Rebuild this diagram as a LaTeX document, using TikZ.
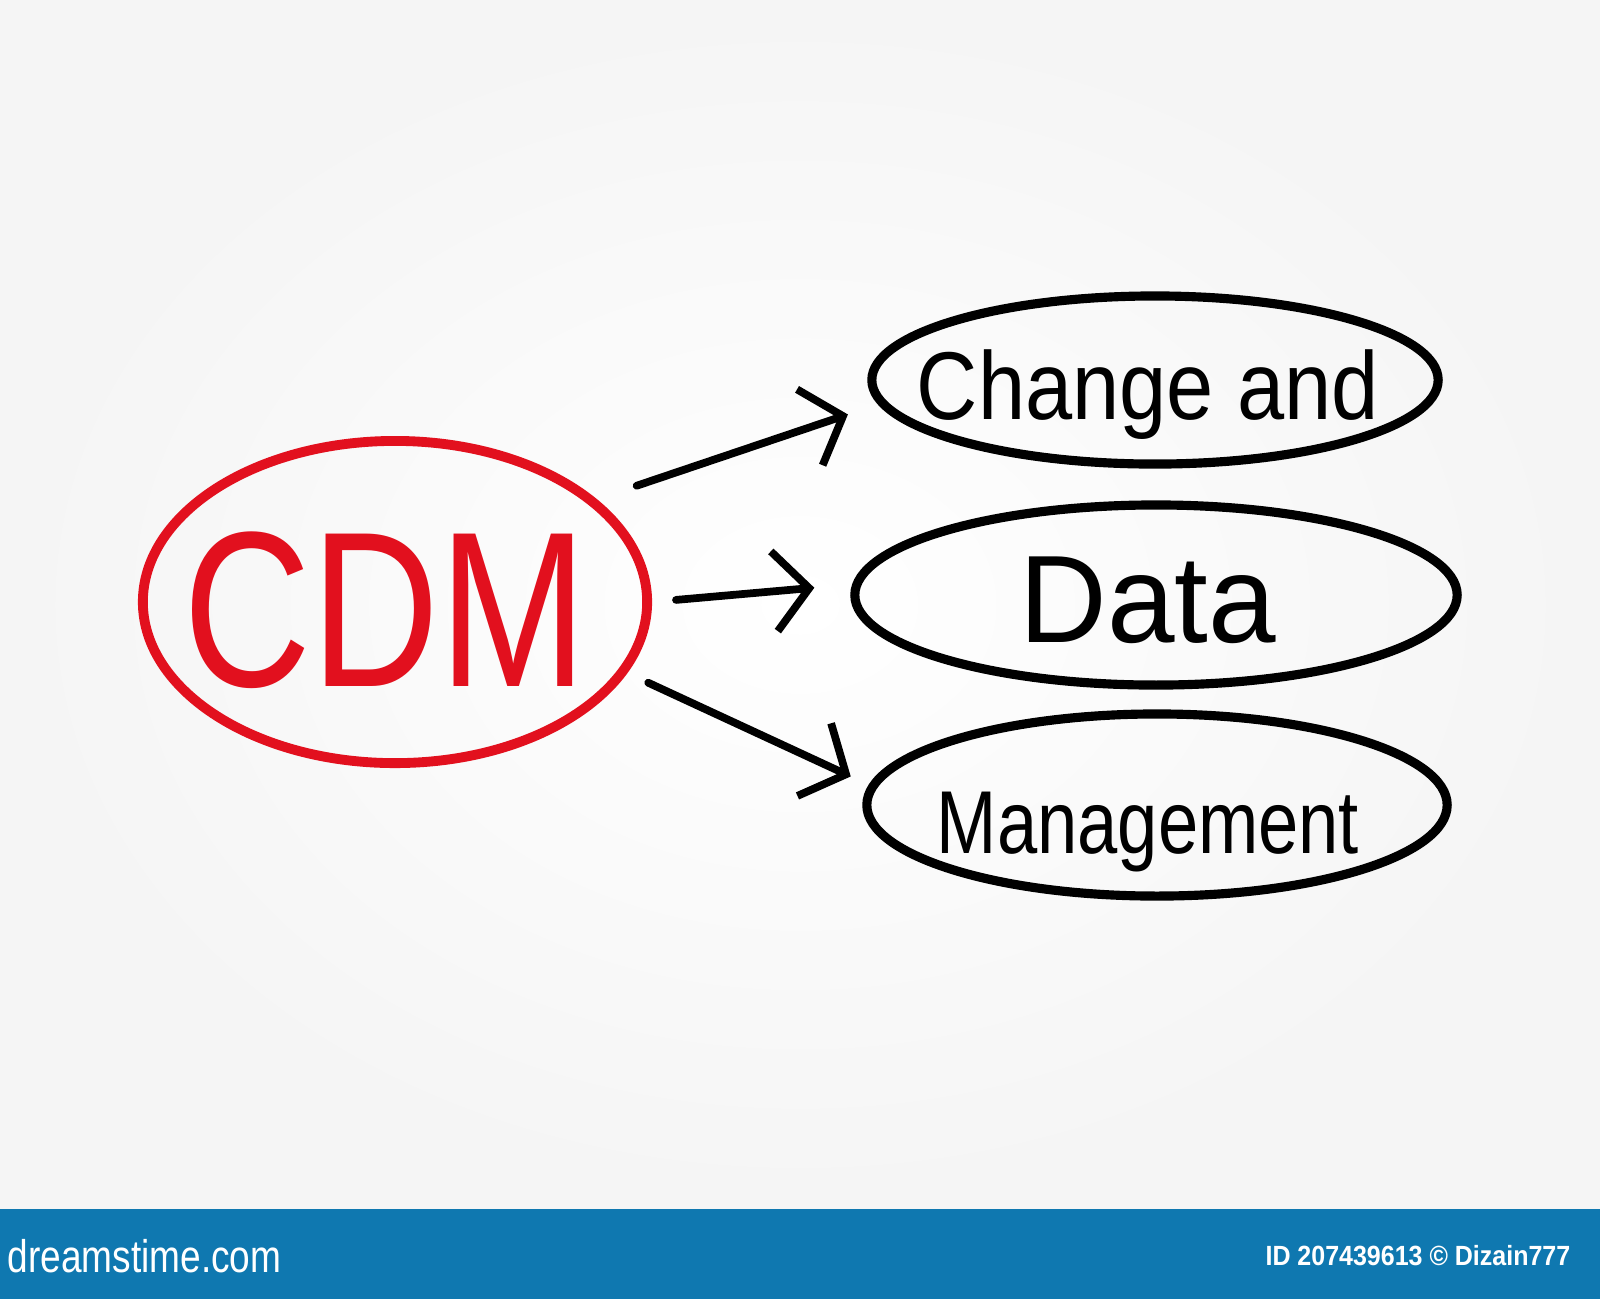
\documentclass[tikz,border=0pt]{standalone}
\usepackage{graphicx}
\usepackage{fontspec}
\setmainfont{Liberation Sans}
\usetikzlibrary{shapes.geometric,arrows.meta,positioning}
\definecolor{cdmred}{HTML}{E2101E}
\definecolor{barblue}{HTML}{0F78B0}

\begin{document}
\begin{tikzpicture}[x=0.01cm, y=-0.01cm,
	bubble/.style = {draw, ellipse, line width=2.6pt, inner sep=0pt},
	arr/.style = {-{Straight Barb[length=3.5mm, width=8mm]}, line width=2.2pt, line cap=round}]
		% page and bar
		\useasboundingbox (0,0) rectangle (1600,1299);
		\shade[inner color=white, outer color=black!4] (0,0) rectangle (1600,1209);
		\fill[barblue] (0,1209) rectangle (1600,1299);
		% bubbles
		\node[bubble, draw=cdmred, line width=2.8pt, minimum width=5.04cm, minimum height=3.22cm,
			label={[text=cdmred, font=\fontsize{63}{66}\selectfont, xshift=-0.1cm, yshift=-0.08cm]center:\scalebox{0.8}[1]{CDM}}] (cdm) at (395,602) {};
		\node[bubble, minimum width=5.66cm, minimum height=1.68cm,
			label={[font=\fontsize{27.4}{30}\selectfont, xshift=-0.07cm, yshift=-0.15cm]center:\scalebox{0.88}[1]{Change and}}] (chg) at (1155,380) {};
		\node[bubble, minimum width=6.02cm, minimum height=1.80cm,
			label={[font=\fontsize{35.4}{38}\selectfont, xshift=-0.08cm, yshift=-0.05cm]center:\scalebox{0.975}[1]{Data}}] (dat) at (1156,595) {};
		\node[bubble, minimum width=5.80cm, minimum height=1.82cm,
			label={[font=\fontsize{25.4}{28}\selectfont, xshift=-0.09cm, yshift=-0.27cm]center:\scalebox{0.81}[1]{Management}}] (mgm) at (1157,805) {};
		% arrows
		\draw[arr, shorten <=0.42cm, shorten >=0.32cm] (cdm.27.6) -- (chg.185.1);
		\draw[arr, shorten <=0.24cm, shorten >=0.38cm] (cdm.-0.9) -- (dat.178.8);
		\draw[arr, shorten <=0.23cm, shorten >=0.2cm] (cdm.-17.9) -- (mgm.176.4);
		% bar texts
		\node[text=white, anchor=base west, inner sep=0pt, font=\fontsize{13}{15}\selectfont] (site) at (7,1272) {\scalebox{0.81}[1]{dreamstime.com}};
		\node[text=white, anchor=base east, inner sep=0pt, font=\bfseries\fontsize{7.9}{9}\selectfont] (imgid) at (1571,1265) {\scalebox{0.9}[1]{ID 207439613 © Dizain777}};
	\end{tikzpicture}
\end{document}
